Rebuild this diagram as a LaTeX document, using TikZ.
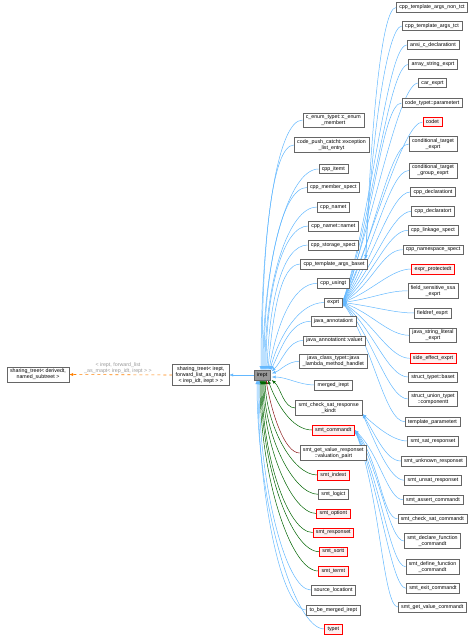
\documentclass[tikz,border=0pt]{standalone}
\usepackage{fontspec}
\setmainfont{Liberation Sans}
\usetikzlibrary{calc,arrows.meta,backgrounds}
\definecolor{pubc}{HTML}{63B8FF}
\definecolor{protc}{HTML}{006400}
\definecolor{privc}{HTML}{8B1A1A}
\definecolor{bordc}{HTML}{666666}
\definecolor{redb}{HTML}{FF0000}
\definecolor{redf}{HTML}{FFF0F0}
\definecolor{irepf}{HTML}{999999}
\definecolor{lblc}{HTML}{9A9A9A}
\newcommand\fanedge[6]{\draw[#1] let \p1=(#2.west), \p2=(#3) in (\p1) .. controls ($(\p1)+(-#4pt,0pt)$) and ($(\p2)+(#5pt,{#6*((\y1)-(\y2))})$) .. (\p2);}
\begin{document}
\begin{tikzpicture}[x=1pt,y=1pt,
 cls/.style={draw=bordc, fill=white, line width=0.5pt, font=\fontsize{5.3}{5.8}\selectfont, align=center, inner xsep=3pt, inner ysep=2pt, minimum height=9.5pt},
 trunc/.style={cls, draw=redb, fill=redf},
 pub/.style={draw=pubc, line width=0.5pt, -{Latex[length=4pt,width=3.2pt]}},
 prot/.style={pub, draw=protc},
 priv/.style={pub, draw=privc},
 tmpl/.style={draw=orange, line width=0.6pt, dashed, -{Latex[length=4pt,width=3.2pt]}},
 lbl/.style={font=\fontsize{5.3}{5.8}\selectfont, text=lblc, align=center, inner sep=0pt},
]
\useasboundingbox (0,0) rectangle (474,-636);
% left
\node[cls] (derived) at (38,-374.5) {sharing\_treet< derivedt,\\named\_subtreet >};
\node[cls] (sharing) at (200.8,-375) {sharing\_treet< irept,\\forward\_list\_as\_mapt\\< irep\_idt, irept > >};
\node[cls, fill=irepf] (irept) at (262.2,-375) {irept};
\node[lbl] (tlabel) at (118,-368) {< irept, forward\_list\\\_as\_mapt< irep\_idt, irept > >};
% middle column
\node[cls] (cenum) at (333.3,-120) {c\_enum\_typet::c\_enum\\\_membert};
\node[cls] (codepush) at (331.5,-145) {code\_push\_catcht::exception\\\_list\_entryt};
\node[cls] (cppitem) at (333.3,-169) {cpp\_itemt};
\node[cls] (cppmember) at (333.3,-187.5) {cpp\_member\_spect};
\node[cls] (cppname) at (333.3,-207) {cpp\_namet};
\node[cls] (cppnn) at (333.3,-226) {cpp\_namet::namet};
\node[cls] (cppstor) at (333.3,-245) {cpp\_storage\_spect};
\node[cls] (cpptab) at (334,-264) {cpp\_template\_args\_baset};
\node[cls] (cppusing) at (333.3,-283.3) {cpp\_usingt};
\node[cls] (exprt) at (333.3,-302.5) {exprt};
\node[cls] (javaann) at (333.3,-321.3) {java\_annotationt};
\node[cls] (javaval) at (334.3,-340.5) {java\_annotationt::valuet};
\node[cls] (javaclass) at (333.3,-361.3) {java\_class\_typet::java\\\_lambda\_method\_handlet};
\node[cls] (merged) at (333.3,-385) {merged\_irept};
\node[cls] (smtcheck) at (328.7,-408) {smt\_check\_sat\_response\\\_kindt};
\node[trunc] (smtcmd) at (333.3,-430) {smt\_commandt};
\node[cls] (valpair) at (333.3,-453) {smt\_get\_value\_responset\\::valuation\_pairt};
\node[trunc] (smtindex) at (333.3,-475) {smt\_indext};
\node[cls] (smtlogic) at (333.3,-494.3) {smt\_logict};
\node[trunc] (smtoption) at (333.3,-513.5) {smt\_optiont};
\node[trunc] (smtresp) at (333.3,-532.5) {smt\_responset};
\node[trunc] (smtsort) at (333.3,-551.7) {smt\_sortt};
\node[trunc] (smtterm) at (333.3,-571) {smt\_termt};
\node[cls] (srcloc) at (333.3,-590) {source\_locationt};
\node[cls] (tbm) at (333.3,-610) {to\_be\_merged\_irept};
\node[trunc] (typet) at (333.3,-629) {typet};
% right column
\node[cls] (nontct) at (432,-7.5) {cpp\_template\_args\_non\_tct};
\node[cls] (tct) at (432,-26) {cpp\_template\_args\_tct};
\node[cls] (ansi) at (433,-45) {ansi\_c\_declarationt};
\node[cls] (array) at (433,-64.5) {array\_string\_exprt};
\node[cls] (car) at (432.5,-83) {car\_exprt};
\node[cls] (codetp) at (432,-103) {code\_typet::parametert};
\node[trunc] (codet) at (432.3,-122) {codet};
\node[cls] (cond) at (433,-144) {conditional\_target\\\_exprt};
\node[cls] (condg) at (433,-170.5) {conditional\_target\\\_group\_exprt};
\node[cls] (cppdecl) at (433,-192) {cpp\_declarationt};
\node[cls] (cppdeclr) at (433,-211.3) {cpp\_declaratort};
\node[cls] (cpplink) at (433,-230.3) {cpp\_linkage\_spect};
\node[cls] (cppns) at (433,-249.7) {cpp\_namespace\_spect};
\node[trunc] (exprprot) at (433,-269) {expr\_protectedt};
\node[cls] (fss) at (433,-290.8) {field\_sensitive\_ssa\\\_exprt};
\node[cls] (fieldref) at (432.5,-313) {fieldref\_exprt};
\node[cls] (jsl) at (433,-335.3) {java\_string\_literal\\\_exprt};
\node[trunc] (side) at (433,-358.3) {side\_effect\_exprt};
\node[cls] (sbase) at (433,-377) {struct\_typet::baset};
\node[cls] (suc) at (433,-399) {struct\_union\_typet\\::componentt};
\node[cls] (tparam) at (432.5,-421.7) {template\_parametert};
\node[cls] (sat) at (433,-441) {smt\_sat\_responset};
\node[cls] (unknown) at (433.5,-461) {smt\_unknown\_responset};
\node[cls] (unsat) at (433,-480.3) {smt\_unsat\_responset};
\node[cls] (assert) at (433,-499.7) {smt\_assert\_commandt};
\node[cls] (checksat) at (432.3,-518.8) {smt\_check\_sat\_commandt};
\node[cls] (declare) at (432.5,-541) {smt\_declare\_function\\\_commandt};
\node[cls] (define) at (432.5,-566.7) {smt\_define\_function\\\_commandt};
\node[cls] (exit) at (433,-588.3) {smt\_exit\_commandt};
\node[cls] (getval) at (432.3,-607) {smt\_get\_value\_commandt};
\coordinate (tabend) at ($(cpptab.north east)+(-2,0)$);
\coordinate (chkend) at ($(smtcheck.south east)+(0.5,1.5)$);
\begin{scope}[on background layer]
\draw[tmpl] (sharing.west) -- (derived.east);
\draw[pub] (irept.west) -- (sharing.east);
\foreach \c/\ex/\ey/\ca/\an/\cb/\st in {
 cenum/261/370/25/90/140/pub, codepush/262/370/22/90/125/pub,
 cppitem/263/370/30/90/110/pub, cppmember/264/370/25/90/100/pub,
 cppname/265/370/28/90/90/pub, cppnn/266/370/25/90/80/pub,
 cppstor/267/370/25/88/70/pub, cpptab/268/370/20/85/55/pub,
 cppusing/269/370/25/80/45/pub, exprt/270/370/25/75/35/pub,
 javaann/271/370/20/65/25/pub, javaval/271.7/371.5/15/45/15/pub,
 javaclass/271.7/373.5/12/20/10/pub, merged/271.7/377/15/0/15/pub,
 smtcheck/271.7/380/12/-40/12/prot, smtcmd/268/380/20/-70/25/prot,
 valpair/266/380/15/-80/35/priv, smtindex/265/380/25/-88/45/prot,
 smtlogic/264/380/25/-90/55/prot, smtoption/263/380/25/-90/65/prot,
 smtresp/262/380/25/-90/75/prot, smtsort/261/380/28/-90/85/prot,
 smtterm/260/380/28/-90/95/prot, srcloc/259/380/25/-90/105/pub,
 tbm/258/380/25/-90/115/pub, typet/257/380/30/-90/125/pub}
 {\draw[\st] (\c.west) .. controls +(-\ca,0) and +(\an:\cb) .. (\ex,-\ey);}
\foreach \c in {nontct,tct} {\fanedge{pub}{\c}{tabend}{15}{5}{0.5}}
\foreach \c in {ansi,array,car,codetp,codet,cond,condg,cppdecl,cppdeclr,cpplink,cppns,exprprot,fss,fieldref,jsl,side,sbase,suc,tparam}
 {\fanedge{pub}{\c}{exprt.east}{20}{30}{0.35}}
\foreach \c in {sat,unknown,unsat} {\fanedge{pub}{\c}{chkend}{15}{12}{0.4}}
\foreach \c in {assert,checksat,declare,define,exit,getval} {\fanedge{pub}{\c}{smtcmd.east}{15}{25}{0.35}}
\end{scope}
\end{tikzpicture}
\end{document}
